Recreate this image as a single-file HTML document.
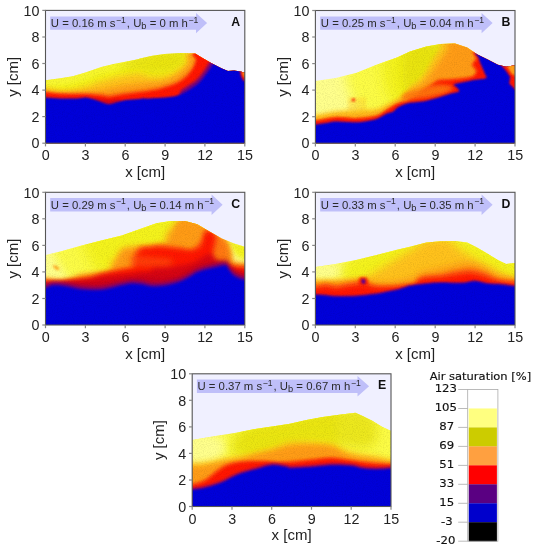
<!DOCTYPE html>
<html><head><meta charset="utf-8"><title>Air saturation panels</title>
<style>
html,body{margin:0;padding:0;background:#fff;}
body{width:538px;height:550px;overflow:hidden;}
svg{display:block;}
text{font-family:"Liberation Sans",sans-serif;fill:#222;}
.t{font-size:14.3px;}
.l{font-size:15px;}
.a{font-size:11.35px;fill:#2a2a2a;}
.sup{font-size:8.6px;}.sub{font-size:9.3px;}
.p{font-size:12.3px;font-weight:bold;fill:#111;}
.lg{font-family:"DejaVu Sans",sans-serif;font-size:10px;fill:#111;stroke:#111;stroke-width:0.15px;}
</style></head><body>
<svg width="538" height="550" viewBox="0 0 538 550">
<defs>
<filter id="b0_8" x="-30%" y="-30%" width="160%" height="160%"><feGaussianBlur stdDeviation="0.8"/></filter>
<filter id="b1" x="-30%" y="-30%" width="160%" height="160%"><feGaussianBlur stdDeviation="1"/></filter>
<filter id="b1_1" x="-30%" y="-30%" width="160%" height="160%"><feGaussianBlur stdDeviation="1.1"/></filter>
<filter id="b1_2" x="-30%" y="-30%" width="160%" height="160%"><feGaussianBlur stdDeviation="1.2"/></filter>
<filter id="b1_3" x="-30%" y="-30%" width="160%" height="160%"><feGaussianBlur stdDeviation="1.3"/></filter>
<filter id="b1_5" x="-30%" y="-30%" width="160%" height="160%"><feGaussianBlur stdDeviation="1.5"/></filter>
<filter id="b2" x="-30%" y="-30%" width="160%" height="160%"><feGaussianBlur stdDeviation="2"/></filter>
<filter id="b2_5" x="-30%" y="-30%" width="160%" height="160%"><feGaussianBlur stdDeviation="2.5"/></filter>
<filter id="b3" x="-30%" y="-30%" width="160%" height="160%"><feGaussianBlur stdDeviation="3"/></filter>
<filter id="b4" x="-30%" y="-30%" width="160%" height="160%"><feGaussianBlur stdDeviation="4"/></filter>
<filter id="b5" x="-30%" y="-30%" width="160%" height="160%"><feGaussianBlur stdDeviation="5"/></filter>
<filter id="b6" x="-30%" y="-30%" width="160%" height="160%"><feGaussianBlur stdDeviation="6"/></filter>
<filter id="grain" x="0" y="0" width="100%" height="100%"><feTurbulence type="fractalNoise" baseFrequency="0.9" numOctaves="2" seed="7" result="n"/><feColorMatrix in="n" type="matrix" values="0 0 0 0 0  0 0 0 0 0  0 0 0 0 0  0 0 0 -1.6 0.95" result="a"/><feComposite in="a" in2="SourceGraphic" operator="in"/></filter>
<clipPath id="cfA"><rect x="45.5" y="10.4" width="199.3" height="132.8"/></clipPath>
<clipPath id="csA"><polygon points="25.5,80.3 45.5,80.3 60.4,78.2 72.7,76.2 85.4,72.5 101.3,67.0 113.6,63.9 125.5,61.7 138.1,59.2 140.0,58.6 152.3,55.7 164.5,54.1 180.9,53.1 195.2,53.5 201.3,57.2 211.6,63.3 221.8,68.4 227.9,71.1 234.1,70.4 240.2,71.5 244.9,72.5 264.8,72.5 264.8,163.2 25.5,163.2"/></clipPath>
<clipPath id="cfB"><rect x="315.4" y="10.5" width="199.6" height="132.7"/></clipPath>
<clipPath id="csB"><polygon points="295.4,81.1 315.2,81.1 335.7,78.0 356.1,72.9 376.6,64.8 397.0,57.6 410.0,51.5 426.4,46.4 440.7,43.9 455.0,43.5 467.2,47.4 477.5,54.5 487.7,59.6 497.9,64.8 506.1,66.8 514.9,65.2 535.0,65.2 535.0,163.2 295.4,163.2"/></clipPath>
<clipPath id="cfC"><rect x="45.5" y="192.3" width="199.3" height="132.7"/></clipPath>
<clipPath id="csC"><polygon points="25.5,254.9 45.5,254.9 60.4,251.4 80.9,245.7 101.3,240.6 121.8,235.4 142.2,228.3 156.4,223.2 170.7,221.1 185.0,221.1 197.2,224.2 209.5,231.4 221.8,238.5 234.1,243.6 244.9,246.7 264.8,246.7 264.8,345.0 25.5,345.0"/></clipPath>
<clipPath id="cfD"><rect x="315.4" y="192.3" width="199.6" height="132.7"/></clipPath>
<clipPath id="csD"><polygon points="295.4,267.1 315.6,267.1 335.7,264.1 356.1,260.0 376.6,254.9 397.0,249.8 410.0,246.7 426.4,242.6 440.7,241.2 455.0,241.0 467.2,242.6 477.5,247.7 487.7,253.8 497.9,260.0 506.1,264.1 514.9,263.0 535.0,263.0 535.0,345.0 295.4,345.0"/></clipPath>
<clipPath id="cfE"><rect x="192.2" y="373.8" width="198.8" height="132.7"/></clipPath>
<clipPath id="csE"><polygon points="172.2,440.0 192.2,440.0 215.7,435.9 236.1,432.8 256.6,428.7 277.0,425.7 290.0,423.8 306.4,419.9 322.7,416.9 341.1,414.4 355.4,412.8 361.6,415.4 371.8,420.6 382.0,426.7 390.6,430.8 411.0,430.8 411.0,526.5 172.2,526.5"/></clipPath>
</defs>
<rect width="538" height="550" fill="#fff"/>
<g id="panelA">
<rect x="45.5" y="10.4" width="199.3" height="132.8" fill="#f0f0ff"/>
<g clip-path="url(#cfA)"><g clip-path="url(#csA)">
<rect x="40.5" y="10.4" width="209.3" height="137.8" fill="#f4f31a"/>
<path d="M45.5 80.3C48.9 79.9 55.9 78.9 60.4 78.2C65.0 77.5 68.6 77.1 72.7 76.2C76.9 75.2 80.6 74.0 85.4 72.5C90.2 71.0 96.6 68.4 101.3 67.0C106.0 65.5 109.6 64.8 113.6 63.9C117.6 63.0 121.4 62.4 125.5 61.7C129.6 60.9 134.1 60.0 138.1 59.2C142.2 58.5 148.0 57.0 150.0 57.2C152.0 57.3 154.1 58.9 150.0 60.2C145.9 61.6 133.6 63.5 125.5 65.3C117.4 67.2 108.0 69.4 101.3 71.5C94.7 73.5 90.2 75.9 85.4 77.6C80.6 79.3 76.9 80.7 72.7 81.7C68.6 82.7 65.0 83.1 60.4 83.7C55.9 84.4 48.9 85.4 45.5 85.8C42.1 86.1 40.9 86.7 40.0 85.8C39.1 84.9 39.1 81.2 40.0 80.3C40.9 79.3 42.1 80.6 45.5 80.3Z" fill="#fcfc44" filter="url(#b3)" opacity="0.9"/>
<path d="M127.7 60.2C131.8 57.8 139.3 55.5 148.2 54.1C157.0 52.7 174.4 51.4 180.9 52.0C187.4 52.7 187.4 55.5 187.0 58.2C186.7 60.9 183.3 65.8 178.8 68.4C174.4 71.0 166.9 73.2 160.4 73.5C154.0 73.9 146.1 71.3 140.0 70.4C133.9 69.6 125.7 70.1 123.6 68.4C121.6 66.7 123.6 62.6 127.7 60.2Z" fill="#e6e008" filter="url(#b5)" opacity="0.8"/>
<path d="M30.5 88.8C33.0 77.3 40.5 88.5 45.5 88.8C50.5 89.2 55.9 90.7 60.4 90.9C65.0 91.1 68.6 90.6 72.7 89.9C76.9 89.2 82.0 87.8 85.4 86.8C88.8 85.8 90.5 84.9 93.2 83.9C95.8 83.0 97.9 82.1 101.3 81.1C104.7 80.1 109.6 78.8 113.6 77.8C117.6 76.9 121.4 76.0 125.5 75.4C129.6 74.7 134.1 74.1 138.1 73.7C142.2 73.3 149.7 73.1 150.0 73.1C150.3 73.1 139.6 73.0 140.0 73.7C140.4 74.4 148.2 76.8 152.3 77.2C156.4 77.6 160.8 77.2 164.5 76.4C168.3 75.6 171.7 74.1 174.8 72.5C177.8 70.9 180.7 68.8 182.9 66.8C185.2 64.7 186.7 62.7 188.0 60.2C189.4 57.8 179.2 53.4 191.1 52.0C203.1 50.7 248.4 34.4 259.8 52.0C271.2 69.7 298.0 140.5 259.8 158.2C221.6 175.9 68.7 169.8 30.5 158.2C-7.7 146.6 28.0 100.4 30.5 88.8Z" fill="#ffc21c" filter="url(#b3)"/>
<path d="M30.5 90.5C33.0 79.2 40.5 90.2 45.5 90.5C50.5 90.8 53.8 92.2 60.4 92.3C67.1 92.5 78.6 91.7 85.4 91.3C92.2 90.9 96.6 90.5 101.3 89.9C106.0 89.3 109.6 88.4 113.6 87.6C117.6 86.8 119.4 86.0 125.5 85.2C131.5 84.3 147.6 83.2 150.0 82.7C152.4 82.2 139.6 82.3 140.0 82.3C140.4 82.3 148.2 83.0 152.3 82.7C156.4 82.4 160.8 81.8 164.5 80.7C168.3 79.6 171.7 77.9 174.8 76.2C177.8 74.4 180.6 72.2 182.9 70.0C185.3 67.9 187.3 66.1 189.1 63.1C190.8 60.1 181.8 53.9 193.6 52.0C205.4 50.2 248.8 34.4 259.8 52.0C270.8 69.7 298.0 140.5 259.8 158.2C221.6 175.9 68.7 169.5 30.5 158.2C-7.7 146.9 28.0 101.8 30.5 90.5Z" fill="#ff9c14" filter="url(#b2_5)"/>
<path d="M30.5 91.7C33.0 80.6 40.5 91.5 45.5 91.7C50.5 91.9 53.8 92.9 60.4 93.1C67.1 93.3 78.6 92.9 85.4 92.9C92.2 93.0 97.3 93.3 101.3 93.6C105.4 93.8 105.5 94.8 109.5 94.6C113.5 94.3 118.7 93.1 125.5 92.1C132.2 91.2 147.6 89.5 150.0 88.8C152.4 88.2 139.6 88.5 140.0 88.4C140.4 88.4 148.2 88.9 152.3 88.4C156.4 88.0 160.4 86.8 164.5 85.6C168.6 84.4 173.2 83.1 176.8 81.3C180.4 79.4 183.4 76.9 186.0 74.5C188.6 72.1 190.6 69.5 192.1 67.0C193.7 64.4 194.5 61.9 195.2 59.4C195.9 56.9 185.7 53.3 196.4 52.0C207.2 50.8 249.2 34.4 259.8 52.0C270.4 69.7 298.0 140.5 259.8 158.2C221.6 175.9 68.7 169.3 30.5 158.2C-7.7 147.1 28.0 102.8 30.5 91.7Z" fill="#ff5a0a" filter="url(#b1_5)"/>
<path d="M30.5 93.1C33.0 82.3 40.5 92.9 45.5 93.1C50.5 93.3 53.8 94.1 60.4 94.4C67.1 94.6 78.6 94.5 85.4 94.8C92.2 95.1 97.3 95.8 101.3 96.2C105.4 96.7 105.5 97.7 109.5 97.4C113.5 97.2 118.7 95.8 125.5 94.8C132.2 93.8 147.6 92.1 150.0 91.5C152.4 90.9 139.6 91.4 140.0 91.3C140.4 91.2 148.2 91.6 152.3 91.1C156.4 90.6 160.4 89.4 164.5 88.2C168.6 87.1 173.1 86.0 176.8 84.1C180.6 82.3 184.2 79.6 187.0 77.0C189.8 74.4 191.9 71.4 193.6 68.6C195.2 65.8 196.1 62.8 196.8 60.0C197.6 57.3 187.8 53.4 198.3 52.0C208.8 50.7 249.5 34.4 259.8 52.0C270.1 69.7 298.0 140.5 259.8 158.2C221.6 175.9 68.7 169.0 30.5 158.2C-7.7 147.4 28.0 104.0 30.5 93.1Z" fill="#ff1200" filter="url(#b1_2)"/>
<path d="M178.8 97.0C179.2 95.0 179.6 92.6 180.9 90.9C182.2 89.2 184.1 88.6 186.6 86.8C189.2 85.0 193.3 83.0 196.2 80.3C199.2 77.5 202.4 73.1 204.4 70.4C206.4 67.8 207.3 66.1 208.5 64.3C209.7 62.5 210.6 61.2 211.6 59.8C212.5 58.5 211.6 56.7 214.0 56.1C216.4 55.5 223.9 48.3 225.9 56.1C227.9 64.0 233.7 95.3 225.9 103.2C218.0 111.0 186.7 104.2 178.8 103.2C171.0 102.1 178.5 99.1 178.8 97.0Z" fill="#5a009a" filter="url(#b1_5)" opacity="0.85"/>
<path d="M93.6 98.7C94.3 97.9 98.7 98.9 101.3 99.1C104.0 99.3 106.6 99.9 109.5 99.9C112.4 99.9 116.7 98.5 118.7 99.1C120.8 99.7 123.3 102.4 121.8 103.6C120.3 104.8 113.6 106.2 109.5 106.2C105.4 106.2 99.9 104.8 97.2 103.6C94.6 102.3 92.9 99.4 93.6 98.7Z" fill="#c8001e" filter="url(#b1_5)" opacity="0.7"/>
<path d="M30.5 97.4C33.0 87.3 40.5 97.3 45.5 97.4C50.5 97.6 55.2 98.3 60.4 98.5C65.7 98.6 72.6 98.6 76.8 98.5C81.0 98.3 82.7 97.3 85.4 97.4C88.1 97.5 90.5 98.3 93.2 99.1C95.8 99.9 98.6 101.3 101.3 102.1C104.1 103.0 106.8 104.2 109.5 104.2C112.2 104.2 115.0 102.8 117.7 102.1C120.4 101.5 122.1 100.6 125.5 100.1C128.9 99.6 134.1 99.4 138.1 99.1C142.2 98.7 149.7 97.9 150.0 97.8C150.3 97.8 138.3 98.7 140.0 98.7C141.7 98.7 154.3 98.3 160.4 97.8C166.6 97.4 172.0 97.1 176.8 95.8C181.6 94.5 185.3 92.1 189.1 89.9C192.8 87.7 196.2 85.6 199.3 82.7C202.4 79.8 205.4 75.2 207.5 72.5C209.5 69.8 210.4 68.1 211.6 66.4C212.8 64.7 213.6 63.6 214.6 62.3C215.7 60.9 210.2 58.9 217.7 58.2C225.2 57.5 252.8 41.5 259.8 58.2C266.8 74.8 298.0 141.5 259.8 158.2C221.6 174.9 68.7 168.3 30.5 158.2C-7.7 148.1 28.0 107.6 30.5 97.4Z" fill="#0505da" filter="url(#b1_2)"/>
<polygon points="239.8,70.4 248.4,70.4 248.4,80.7 243.3,80.7 241.2,76.6" fill="#ff1200" filter="url(#b0_8)"/>
<polygon points="242.2,71.5 248.4,71.5 248.4,77.6 243.3,76.6" fill="#ff9c14" filter="url(#b0_8)"/>
<rect x="45.5" y="10.4" width="199.3" height="132.8" fill="#000" opacity="0.10" filter="url(#grain)"/>
</g></g>
<polygon points="50.2,16.4 196.0,16.4 196.0,12.9 207.1,23.1 196.0,33.3 196.0,29.8 50.2,29.8" fill="#bfbff9"/>
<rect x="45.5" y="10.4" width="199.3" height="132.8" fill="none" stroke="#555" stroke-width="1.1"/>
<line x1="45.5" y1="143.2" x2="45.5" y2="146.4" stroke="#888" stroke-width="1.2"/>
<text x="45.7" y="160.2" class="t" text-anchor="middle">0</text>
<line x1="85.4" y1="143.2" x2="85.4" y2="146.4" stroke="#888" stroke-width="1.2"/>
<text x="85.6" y="160.2" class="t" text-anchor="middle">3</text>
<line x1="125.2" y1="143.2" x2="125.2" y2="146.4" stroke="#888" stroke-width="1.2"/>
<text x="125.4" y="160.2" class="t" text-anchor="middle">6</text>
<line x1="165.1" y1="143.2" x2="165.1" y2="146.4" stroke="#888" stroke-width="1.2"/>
<text x="165.3" y="160.2" class="t" text-anchor="middle">9</text>
<line x1="204.9" y1="143.2" x2="204.9" y2="146.4" stroke="#888" stroke-width="1.2"/>
<text x="205.1" y="160.2" class="t" text-anchor="middle">12</text>
<line x1="244.8" y1="143.2" x2="244.8" y2="146.4" stroke="#888" stroke-width="1.2"/>
<text x="245.0" y="160.2" class="t" text-anchor="middle">15</text>
<line x1="42.3" y1="143.2" x2="45.5" y2="143.2" stroke="#888" stroke-width="1.2"/>
<text x="39.5" y="148.4" class="t" text-anchor="end">0</text>
<line x1="42.3" y1="116.6" x2="45.5" y2="116.6" stroke="#888" stroke-width="1.2"/>
<text x="39.5" y="121.8" class="t" text-anchor="end">2</text>
<line x1="42.3" y1="90.1" x2="45.5" y2="90.1" stroke="#888" stroke-width="1.2"/>
<text x="39.5" y="95.3" class="t" text-anchor="end">4</text>
<line x1="42.3" y1="63.5" x2="45.5" y2="63.5" stroke="#888" stroke-width="1.2"/>
<text x="39.5" y="68.7" class="t" text-anchor="end">6</text>
<line x1="42.3" y1="37.0" x2="45.5" y2="37.0" stroke="#888" stroke-width="1.2"/>
<text x="39.5" y="42.2" class="t" text-anchor="end">8</text>
<line x1="42.3" y1="10.4" x2="45.5" y2="10.4" stroke="#888" stroke-width="1.2"/>
<text x="39.5" y="15.6" class="t" text-anchor="end">10</text>
<text x="145.2" y="176.9" class="l" text-anchor="middle">x [cm]</text>
<text transform="translate(17.7 76.8) rotate(-90)" class="l" text-anchor="middle">y [cm]</text>
<text x="50.8" y="27.0" class="a">U = 0.16 m s<tspan class="sup" dy="-4.5" dx="0.6">−1</tspan><tspan dy="4.5" dx="1">, U</tspan><tspan class="sub" dy="2">b</tspan><tspan dy="-2"> = 0 m h</tspan><tspan class="sup" dy="-4.5" dx="0.6">−1</tspan></text>
<text x="235.8" y="25.8" class="p" text-anchor="middle">A</text>
</g>
<g id="panelB">
<rect x="315.4" y="10.5" width="199.6" height="132.7" fill="#f0f0ff"/>
<g clip-path="url(#cfB)"><g clip-path="url(#csB)">
<rect x="310.4" y="10.5" width="209.6" height="137.7" fill="#ffff8c"/>
<path d="M352.0 60.7C364.6 51.1 415.1 31.0 427.7 40.2C440.3 49.4 436.9 103.3 427.7 115.9C418.5 128.5 385.1 118.9 372.5 115.9C359.9 112.8 355.4 106.7 352.0 97.5C348.6 88.3 339.4 70.2 352.0 60.7Z" fill="#fcfc44" filter="url(#b6)"/>
<path d="M386.8 50.4C397.0 41.9 437.9 30.0 448.1 40.2C458.3 50.4 455.6 100.5 448.1 111.8C440.6 123.0 413.4 111.1 403.1 107.7C392.9 104.3 389.5 100.9 386.8 91.3C384.1 81.8 376.6 59.0 386.8 50.4Z" fill="#f4f31a" filter="url(#b6)"/>
<path d="M405.9 48.4C411.7 39.9 432.1 41.6 440.7 40.2C449.2 38.9 455.3 35.1 457.0 40.2C458.7 45.3 455.3 63.7 450.9 70.9C446.5 78.0 437.9 79.8 430.4 83.2C422.9 86.6 410.0 97.1 405.9 91.3C401.8 85.5 400.1 56.9 405.9 48.4Z" fill="#e6e008" filter="url(#b5)" opacity="0.8"/>
<polygon points="347.9,97.5 366.3,97.5 366.3,111.8 347.9,111.8" fill="#ffc21c" filter="url(#b1_5)" opacity="0.35"/>
<path d="M300.4 115.1C302.9 107.9 309.3 115.6 315.2 115.1C321.1 114.5 328.9 112.5 335.7 111.6C342.5 110.7 349.3 110.2 356.1 109.7C362.9 109.3 371.4 109.7 376.6 108.9C381.7 108.1 383.4 106.3 386.8 104.8C390.2 103.3 393.6 101.8 397.0 99.9C400.4 98.0 405.1 95.6 407.2 93.4C409.4 91.1 408.2 88.5 410.0 86.4C411.8 84.4 415.5 83.7 418.2 81.1C420.9 78.5 423.8 74.6 426.4 70.9C428.9 67.1 431.1 62.5 433.5 58.6C435.9 54.7 438.6 50.4 440.7 47.4C442.7 44.3 430.9 41.4 445.8 40.2C460.7 39.0 516.0 20.6 530.0 40.2C544.0 59.9 568.3 138.5 530.0 158.2C491.7 177.9 338.7 165.4 300.4 158.2C262.1 151.0 297.9 122.2 300.4 115.1Z" fill="#ffc21c" filter="url(#b2)"/>
<path d="M300.4 119.1C302.9 112.6 309.3 119.7 315.2 119.1C321.1 118.6 328.9 116.4 335.7 115.9C342.5 115.3 349.3 116.3 356.1 115.9C362.9 115.5 371.4 114.7 376.6 113.4C381.7 112.1 383.4 110.1 386.8 108.1C390.2 106.1 393.6 103.7 397.0 101.6C400.4 99.4 405.1 96.7 407.2 95.0C409.4 93.3 408.2 92.6 410.0 91.3C411.8 90.0 415.1 89.6 418.2 87.2C421.2 84.9 425.0 81.1 428.4 77.0C431.8 72.9 435.4 67.3 438.6 62.7C441.9 58.1 445.3 53.2 447.8 49.4C450.4 45.7 440.3 41.8 454.0 40.2C467.7 38.7 517.3 20.6 530.0 40.2C542.7 59.9 568.3 138.5 530.0 158.2C491.7 177.9 338.7 164.7 300.4 158.2C262.1 151.7 297.9 125.7 300.4 119.1Z" fill="#ff9c14" filter="url(#b2_5)"/>
<path d="M300.4 120.2C302.9 113.8 309.3 120.7 315.2 120.2C321.1 119.7 328.9 117.5 335.7 117.1C342.5 116.7 349.3 118.2 356.1 117.9C362.9 117.6 371.4 116.7 376.6 115.3C381.7 113.8 383.4 111.3 386.8 109.3C390.2 107.4 393.6 105.2 397.0 103.6C400.4 102.0 405.1 100.5 407.2 99.5C409.4 98.5 407.8 98.8 410.0 97.5C412.2 96.1 416.8 93.6 420.2 91.3C423.6 89.1 427.4 86.2 430.4 84.2C433.5 82.1 435.2 80.1 438.6 79.1C442.0 78.1 445.4 78.8 450.9 78.3C456.3 77.7 467.3 77.0 471.3 75.8C475.4 74.6 475.0 72.7 475.0 70.9C475.0 69.1 471.3 66.8 471.3 64.8C471.3 62.7 474.2 61.0 475.0 58.6C475.9 56.2 467.3 51.8 476.4 50.4C485.6 49.1 521.1 32.5 530.0 50.4C538.9 68.4 568.3 140.2 530.0 158.2C491.7 176.2 338.7 164.5 300.4 158.2C262.1 151.9 297.9 126.5 300.4 120.2Z" fill="#ff5a0a" filter="url(#b1_2)"/>
<path d="M300.4 121.0C302.9 114.8 309.3 121.5 315.2 121.0C321.1 120.5 328.9 118.3 335.7 117.9C342.5 117.6 349.3 119.2 356.1 118.9C362.9 118.7 371.4 117.9 376.6 116.5C381.7 115.1 383.4 112.7 386.8 110.8C390.2 108.8 393.6 106.2 397.0 104.6C400.4 103.0 405.1 102.1 407.2 101.2C409.4 100.2 407.8 100.3 410.0 99.1C412.2 97.9 416.8 95.7 420.2 93.8C423.6 91.9 427.5 89.6 430.4 87.7C433.3 85.7 434.2 83.1 437.6 81.9C441.0 80.7 445.3 81.2 450.9 80.5C456.5 79.8 466.9 79.4 471.3 77.8C475.8 76.3 477.1 73.5 477.5 71.3C477.9 69.1 473.8 66.9 473.8 64.8C473.8 62.6 476.7 61.0 477.5 58.6C478.3 56.2 469.7 51.8 478.5 50.4C487.2 49.1 521.4 32.5 530.0 50.4C538.6 68.4 568.3 140.2 530.0 158.2C491.7 176.2 338.7 164.4 300.4 158.2C262.1 152.0 297.9 127.2 300.4 121.0Z" fill="#ff1200" filter="url(#b1)"/>
<path d="M403.9 93.4C406.9 91.4 417.2 90.3 422.3 88.9C427.4 87.5 430.1 85.4 434.5 84.8C439.0 84.2 445.7 84.6 448.8 85.2C452.0 85.8 453.7 87.3 453.3 88.5C453.0 89.7 450.6 90.9 446.8 92.4C443.0 93.8 436.6 95.8 430.4 97.1C424.3 98.3 414.4 99.3 410.0 99.9C405.6 100.5 404.9 101.6 403.9 100.5C402.8 99.4 400.8 95.3 403.9 93.4Z" fill="#ff7a0e" filter="url(#b2)" opacity="0.9"/>
<path d="M300.4 124.5C302.9 118.8 311.0 124.7 315.2 124.5C319.4 124.2 322.0 123.5 325.4 123.0C328.9 122.5 330.6 121.5 335.7 121.4C340.8 121.3 351.0 122.2 356.1 122.2C361.2 122.2 362.9 121.7 366.3 121.2C369.7 120.7 373.2 120.4 376.6 119.1C380.0 117.9 384.1 114.9 386.8 113.6C389.5 112.4 391.2 112.7 392.9 111.8C394.6 110.8 395.3 109.1 397.0 107.9C398.7 106.7 401.0 105.7 403.1 104.8C405.3 104.0 406.1 103.5 410.0 102.8C413.9 102.1 421.2 101.8 426.4 100.7C431.5 99.7 436.6 97.8 440.7 96.7C444.8 95.5 447.8 94.5 450.9 93.6C454.0 92.7 458.1 92.4 459.1 91.3C460.0 90.3 457.5 88.4 456.6 87.2C455.8 86.1 451.5 85.5 454.0 84.4C456.4 83.3 466.1 81.5 471.3 80.5C476.6 79.5 483.4 79.3 485.7 78.3C487.9 77.2 485.7 75.9 485.0 74.0C484.4 72.1 483.0 69.4 482.0 66.8C480.9 64.2 479.3 61.4 478.9 58.6C478.5 55.9 471.0 51.8 479.5 50.4C488.0 49.1 521.6 32.5 530.0 50.4C538.4 68.4 568.3 140.2 530.0 158.2C491.7 176.2 338.7 163.8 300.4 158.2C262.1 152.6 297.9 130.1 300.4 124.5Z" fill="#0505da" filter="url(#b1_1)"/>
<polygon points="500.0,63.7 518.4,62.7 518.4,91.3 514.9,89.3 509.2,83.6 510.2,77.0 506.1,70.9" fill="#ff1200" filter="url(#b1)"/>
<polygon points="506.1,64.8 518.4,63.7 518.4,77.4 511.6,74.0" fill="#ff9c14" filter="url(#b1)"/>
<polygon points="351.8,98.5 355.1,98.5 355.1,101.4 351.8,101.4" fill="#ff1200" filter="url(#b0_8)" opacity="0.85"/>
<rect x="315.4" y="10.5" width="199.6" height="132.7" fill="#000" opacity="0.10" filter="url(#grain)"/>
</g></g>
<polygon points="320.2,16.4 481.6,16.4 481.6,12.9 492.6,23.1 481.6,33.3 481.6,29.8 320.2,29.8" fill="#bfbff9"/>
<rect x="315.4" y="10.5" width="199.6" height="132.7" fill="none" stroke="#555" stroke-width="1.1"/>
<line x1="315.4" y1="143.2" x2="315.4" y2="146.4" stroke="#888" stroke-width="1.2"/>
<text x="315.6" y="160.2" class="t" text-anchor="middle">0</text>
<line x1="355.3" y1="143.2" x2="355.3" y2="146.4" stroke="#888" stroke-width="1.2"/>
<text x="355.5" y="160.2" class="t" text-anchor="middle">3</text>
<line x1="395.2" y1="143.2" x2="395.2" y2="146.4" stroke="#888" stroke-width="1.2"/>
<text x="395.4" y="160.2" class="t" text-anchor="middle">6</text>
<line x1="435.2" y1="143.2" x2="435.2" y2="146.4" stroke="#888" stroke-width="1.2"/>
<text x="435.4" y="160.2" class="t" text-anchor="middle">9</text>
<line x1="475.1" y1="143.2" x2="475.1" y2="146.4" stroke="#888" stroke-width="1.2"/>
<text x="475.3" y="160.2" class="t" text-anchor="middle">12</text>
<line x1="515.0" y1="143.2" x2="515.0" y2="146.4" stroke="#888" stroke-width="1.2"/>
<text x="515.2" y="160.2" class="t" text-anchor="middle">15</text>
<line x1="312.2" y1="143.2" x2="315.4" y2="143.2" stroke="#888" stroke-width="1.2"/>
<text x="309.4" y="148.4" class="t" text-anchor="end">0</text>
<line x1="312.2" y1="116.7" x2="315.4" y2="116.7" stroke="#888" stroke-width="1.2"/>
<text x="309.4" y="121.9" class="t" text-anchor="end">2</text>
<line x1="312.2" y1="90.1" x2="315.4" y2="90.1" stroke="#888" stroke-width="1.2"/>
<text x="309.4" y="95.3" class="t" text-anchor="end">4</text>
<line x1="312.2" y1="63.6" x2="315.4" y2="63.6" stroke="#888" stroke-width="1.2"/>
<text x="309.4" y="68.8" class="t" text-anchor="end">6</text>
<line x1="312.2" y1="37.0" x2="315.4" y2="37.0" stroke="#888" stroke-width="1.2"/>
<text x="309.4" y="42.2" class="t" text-anchor="end">8</text>
<line x1="312.2" y1="10.5" x2="315.4" y2="10.5" stroke="#888" stroke-width="1.2"/>
<text x="309.4" y="15.7" class="t" text-anchor="end">10</text>
<text x="415.2" y="176.9" class="l" text-anchor="middle">x [cm]</text>
<text transform="translate(287.6 76.8) rotate(-90)" class="l" text-anchor="middle">y [cm]</text>
<text x="320.8" y="27.0" class="a">U = 0.25 m s<tspan class="sup" dy="-4.5" dx="0.6">−1</tspan><tspan dy="4.5" dx="1">, U</tspan><tspan class="sub" dy="2">b</tspan><tspan dy="-2"> = 0.04 m h</tspan><tspan class="sup" dy="-4.5" dx="0.6">−1</tspan></text>
<text x="506.0" y="25.9" class="p" text-anchor="middle">B</text>
</g>
<g id="panelC">
<rect x="45.5" y="192.3" width="199.3" height="132.7" fill="#f0f0ff"/>
<g clip-path="url(#cfC)"><g clip-path="url(#csC)">
<rect x="40.5" y="192.3" width="209.3" height="137.7" fill="#ffff8c"/>
<path d="M64.5 235.4C87.7 224.2 180.4 196.9 203.6 204.8C226.7 212.6 222.3 269.5 203.6 282.5C184.8 295.4 114.3 284.2 91.1 282.5C67.9 280.8 69.0 280.1 64.5 272.2C60.1 264.4 41.4 246.7 64.5 235.4Z" fill="#fcfc44" filter="url(#b5)"/>
<path d="M91.1 227.3C109.9 217.7 184.8 196.6 203.6 204.8C222.3 213.0 218.9 264.4 203.6 276.3C188.2 288.3 130.3 278.7 111.6 276.3C92.8 274.0 94.5 270.2 91.1 262.0C87.7 253.8 72.4 236.8 91.1 227.3Z" fill="#f4f31a" filter="url(#b6)"/>
<path d="M115.7 268.6C101.2 265.8 115.1 259.4 116.7 255.9C118.2 252.3 118.5 249.0 124.9 247.3C131.2 245.6 146.8 246.3 154.5 245.7C162.2 245.1 166.8 245.8 170.9 243.6C174.9 241.4 176.3 236.5 179.0 232.4C181.8 228.3 183.1 221.3 187.2 219.1C191.3 216.9 200.8 210.2 203.6 219.1C206.3 227.9 218.2 264.0 203.6 272.2C188.9 280.5 130.1 271.3 115.7 268.6Z" fill="#ffc21c" filter="url(#b3)" opacity="0.9"/>
<path d="M30.5 278.8C33.0 268.6 40.5 278.6 45.5 278.8C50.5 279.0 55.9 280.3 60.4 280.0C65.0 279.8 69.3 278.4 72.7 277.4C76.1 276.3 76.8 274.7 80.9 273.9C85.0 273.0 92.5 272.9 97.2 272.2C102.0 271.6 105.9 272.5 109.5 269.8C113.1 267.1 116.0 259.4 118.7 255.9C121.4 252.4 120.7 250.2 125.9 248.7C131.1 247.3 145.6 247.7 150.0 247.3C154.4 246.9 149.7 246.9 152.3 246.3C154.9 245.7 162.0 245.9 165.6 243.6C169.1 241.3 171.2 236.5 173.7 232.4C176.3 228.3 176.3 220.6 180.9 219.1C185.5 217.6 196.6 221.5 201.3 223.2C206.1 224.9 205.4 226.9 209.5 229.3C213.6 231.7 222.3 234.8 225.9 237.5C229.5 240.2 229.8 242.6 231.0 245.7C232.2 248.7 232.5 253.2 233.0 255.9C233.5 258.6 231.5 260.5 234.1 261.6C236.6 262.7 244.1 262.3 248.4 262.4C252.7 262.6 257.9 249.5 259.8 262.4C261.7 275.4 298.0 327.1 259.8 340.0C221.6 352.9 68.7 350.2 30.5 340.0C-7.7 329.8 28.0 289.0 30.5 278.8Z" fill="#ff9c14" filter="url(#b2_5)"/>
<path d="M226.9 237.5C227.1 236.1 230.5 240.2 234.1 241.6C237.6 242.9 246.0 242.8 248.4 245.7C250.7 248.6 250.1 257.1 248.4 259.0C246.7 260.8 240.7 258.4 238.1 256.9C235.6 255.4 234.9 253.0 233.0 249.8C231.2 246.5 226.7 238.9 226.9 237.5Z" fill="#f4f31a" filter="url(#b2_5)"/>
<path d="M30.5 280.0C33.0 270.0 40.5 279.9 45.5 280.0C50.5 280.2 55.6 281.0 60.4 280.8C65.3 280.7 69.6 280.0 74.8 279.2C79.9 278.5 86.7 277.4 91.1 276.3C95.5 275.3 96.2 274.4 101.3 273.1C106.4 271.8 116.8 269.7 121.8 268.6C126.7 267.4 129.1 268.2 131.0 266.1C132.9 264.0 131.7 259.0 133.0 255.9C134.4 252.8 136.3 249.0 139.2 247.3C142.0 245.6 146.5 246.1 150.0 245.7C153.5 245.2 155.3 244.5 160.4 244.6C165.6 244.8 175.8 246.0 180.9 246.7C186.0 247.4 187.9 249.9 191.1 248.7C194.4 247.5 198.2 242.6 200.3 239.5C202.4 236.5 201.7 231.9 203.8 230.3C205.8 228.8 210.3 229.1 212.6 230.3C214.8 231.5 216.9 233.2 217.3 237.5C217.7 241.8 214.3 251.8 214.8 255.9C215.4 260.0 217.9 260.5 220.8 262.0C223.6 263.6 227.4 264.3 232.0 265.1C236.6 265.8 243.7 266.3 248.4 266.5C253.0 266.8 257.9 254.3 259.8 266.5C261.7 278.8 298.0 327.8 259.8 340.0C221.6 352.2 68.7 350.0 30.5 340.0C-7.7 330.0 28.0 290.0 30.5 280.0Z" fill="#ff5a0a" filter="url(#b2_5)"/>
<path d="M164.5 240.6C164.2 237.3 170.3 227.3 174.8 224.2C179.2 221.1 186.7 221.1 191.1 222.2C195.5 223.2 200.7 226.8 201.3 230.3C202.0 233.9 199.3 241.4 195.2 243.6C191.1 245.8 181.9 244.1 176.8 243.6C171.7 243.1 164.9 243.8 164.5 240.6Z" fill="#ff9c14" filter="url(#b3)" opacity="0.8"/>
<path d="M211.6 233.8C213.5 232.5 221.0 237.3 223.8 239.9C226.6 242.6 227.8 245.9 228.3 249.8C228.8 253.6 229.3 260.8 226.9 263.0C224.5 265.3 216.5 265.6 214.0 263.0C211.5 260.5 212.4 252.6 212.0 247.7C211.6 242.8 209.6 235.1 211.6 233.8Z" fill="#ff5a0a" filter="url(#b3)" opacity="0.55"/>
<path d="M30.5 281.4C33.0 271.7 40.5 281.3 45.5 281.4C50.5 281.6 55.6 282.2 60.4 282.1C65.3 281.9 69.6 281.3 74.8 280.6C79.9 280.0 86.7 279.1 91.1 278.2C95.5 277.2 96.2 276.2 101.3 274.9C106.4 273.6 116.3 271.5 121.8 270.2C127.3 268.9 132.0 269.6 134.5 267.3C136.9 265.1 135.3 259.8 136.5 256.9C137.7 254.0 139.6 251.2 141.8 249.8C144.1 248.4 146.9 248.9 150.0 248.5C153.1 248.2 155.3 247.5 160.4 247.7C165.6 247.9 175.5 249.3 180.9 249.8C186.3 250.2 189.3 251.3 192.8 250.6C196.2 249.9 199.4 248.2 201.3 245.7C203.3 243.1 203.6 237.7 204.4 235.4C205.3 233.2 205.4 232.9 206.4 232.4C207.5 231.9 209.6 231.5 210.9 232.4C212.3 233.3 214.7 234.0 214.8 237.9C215.0 241.8 211.2 251.5 212.0 255.9C212.7 260.3 216.0 262.2 219.3 264.1C222.7 265.9 227.2 266.3 232.0 266.9C236.8 267.6 243.7 268.0 248.4 268.2C253.0 268.4 257.9 256.2 259.8 268.2C261.7 280.1 298.0 328.0 259.8 340.0C221.6 352.0 68.7 349.8 30.5 340.0C-7.7 330.2 28.0 291.2 30.5 281.4Z" fill="#ff1200" filter="url(#b2)"/>
<path d="M131.8 255.9C135.2 254.5 145.8 256.4 152.3 256.9C158.7 257.4 167.6 257.4 170.7 259.0C173.7 260.5 173.7 264.8 170.7 266.1C167.6 267.5 158.7 267.3 152.3 267.1C145.8 267.0 135.2 267.0 131.8 265.1C128.4 263.2 128.4 257.3 131.8 255.9Z" fill="#ff5a0a" filter="url(#b3)" opacity="0.6"/>
<path d="M30.5 283.5C33.0 274.1 40.5 283.5 45.5 283.5C50.5 283.5 55.2 283.7 60.4 283.3C65.7 282.8 71.7 281.6 76.8 280.8C81.9 280.1 87.0 279.5 91.1 278.8C95.2 278.0 96.2 277.1 101.3 276.3C106.4 275.6 113.7 275.1 121.8 274.3C129.9 273.4 144.9 272.2 150.0 271.2C155.1 270.3 148.8 269.3 152.3 268.6C155.7 267.9 164.2 268.1 170.7 267.1C177.1 266.2 186.0 264.6 191.1 263.0C196.2 261.5 198.1 259.5 201.3 257.9C204.6 256.4 207.6 253.1 210.5 253.8C213.4 254.6 215.1 259.8 218.7 262.4C222.3 265.1 227.1 268.3 232.0 269.8C236.9 271.3 243.7 271.0 248.4 271.2C253.0 271.5 257.9 259.8 259.8 271.2C261.7 282.7 298.0 328.5 259.8 340.0C221.6 351.5 68.7 349.4 30.5 340.0C-7.7 330.6 28.0 292.9 30.5 283.5Z" fill="#c8001e" filter="url(#b2_5)" opacity="0.7"/>
<path d="M30.5 286.6C33.0 277.7 41.9 287.0 45.5 286.6C49.1 286.2 49.8 284.6 52.3 284.1C54.8 283.6 57.4 284.1 60.4 283.7C63.5 283.3 63.9 281.9 70.7 281.7C77.5 281.4 92.8 282.4 101.3 282.1C109.9 281.7 115.0 280.6 121.8 279.6C128.6 278.7 139.2 277.2 142.2 276.3C145.3 275.5 137.0 274.5 140.0 274.7C143.0 274.9 153.6 277.4 160.4 277.4C167.3 277.4 175.4 276.2 180.9 274.7C186.3 273.2 187.7 270.6 193.2 268.6C198.6 266.5 208.0 263.9 213.6 262.4C219.2 261.0 223.8 259.2 226.9 260.0C230.0 260.8 229.0 264.4 232.0 267.1C235.0 269.9 240.3 274.8 244.9 276.3C249.5 277.9 257.3 265.7 259.8 276.3C262.3 286.9 298.0 329.4 259.8 340.0C221.6 350.6 68.7 348.9 30.5 340.0C-7.7 331.1 28.0 295.5 30.5 286.6Z" fill="#c8001e" filter="url(#b2_5)" opacity="0.8"/>
<path d="M30.5 285.2C33.0 276.1 42.1 285.6 45.5 285.2C49.0 284.8 48.8 283.2 51.2 282.7C53.7 282.3 57.2 282.4 60.4 282.7C63.7 283.1 67.3 284.0 70.7 284.6C74.1 285.2 75.8 286.0 80.9 286.4C86.0 286.8 94.5 287.7 101.3 287.0C108.2 286.4 116.7 283.6 121.8 282.5C126.9 281.5 128.6 280.9 132.0 280.7C135.4 280.5 140.9 281.5 142.2 281.5C143.6 281.5 138.3 280.4 140.0 280.7C141.7 281.0 147.8 283.3 152.3 283.6C156.7 283.9 161.8 283.4 166.6 282.5C171.4 281.7 176.8 280.0 180.9 278.4C185.0 276.9 188.4 274.8 191.1 273.3C193.8 271.8 194.5 270.6 197.2 269.5C200.0 268.3 204.1 267.1 207.5 266.2C210.9 265.3 214.6 264.5 217.7 263.9C220.8 263.3 224.0 262.0 225.9 262.5C227.7 263.0 227.4 265.1 228.7 266.8C230.1 268.5 231.4 271.2 234.1 272.9C236.7 274.6 240.6 276.3 244.9 277.0C249.2 277.7 257.3 266.5 259.8 277.0C262.3 287.5 298.0 329.5 259.8 340.0C221.6 350.5 68.7 349.1 30.5 340.0C-7.7 330.9 28.0 294.3 30.5 285.2Z" fill="#5a009a" filter="url(#b2)" opacity="0.85"/>
<path d="M30.5 288.2C33.0 279.6 42.1 288.6 45.5 288.2C49.0 287.8 48.8 286.2 51.2 285.7C53.7 285.3 57.2 285.4 60.4 285.7C63.7 286.1 67.3 287.0 70.7 287.6C74.1 288.2 75.8 289.0 80.9 289.4C86.0 289.8 94.5 290.7 101.3 290.0C108.2 289.4 116.7 286.6 121.8 285.5C126.9 284.5 128.6 283.9 132.0 283.7C135.4 283.5 140.9 284.5 142.2 284.5C143.6 284.5 138.3 283.4 140.0 283.7C141.7 284.0 147.8 286.3 152.3 286.6C156.7 286.9 161.8 286.4 166.6 285.5C171.4 284.7 176.8 283.0 180.9 281.4C185.0 279.9 188.4 277.8 191.1 276.3C193.8 274.8 194.5 273.6 197.2 272.5C200.0 271.3 204.1 270.1 207.5 269.2C210.9 268.3 214.6 267.5 217.7 266.9C220.8 266.3 224.0 265.0 225.9 265.5C227.7 266.0 227.4 268.1 228.7 269.8C230.1 271.5 231.4 274.2 234.1 275.9C236.7 277.6 240.6 279.3 244.9 280.0C249.2 280.7 257.3 270.0 259.8 280.0C262.3 290.0 298.0 330.0 259.8 340.0C221.6 350.0 68.7 348.6 30.5 340.0C-7.7 331.4 28.0 296.8 30.5 288.2Z" fill="#0505da" filter="url(#b1_5)"/>
<path d="M53.5 265.1C54.3 265.1 58.2 266.9 59.0 267.8C59.8 268.6 59.0 270.2 58.2 270.2C57.4 270.2 54.9 268.8 54.1 268.0C53.3 267.1 52.7 265.1 53.5 265.1Z" fill="#ff9c14" filter="url(#b0_8)" opacity="0.85"/>
<rect x="45.5" y="192.3" width="199.3" height="132.7" fill="#000" opacity="0.10" filter="url(#grain)"/>
</g></g>
<polygon points="50.2,198.1 211.6,198.1 211.6,194.6 222.6,204.8 211.6,215.0 211.6,211.5 50.2,211.5" fill="#bfbff9"/>
<rect x="45.5" y="192.3" width="199.3" height="132.7" fill="none" stroke="#555" stroke-width="1.1"/>
<line x1="45.5" y1="325.0" x2="45.5" y2="328.2" stroke="#888" stroke-width="1.2"/>
<text x="45.7" y="342.0" class="t" text-anchor="middle">0</text>
<line x1="85.4" y1="325.0" x2="85.4" y2="328.2" stroke="#888" stroke-width="1.2"/>
<text x="85.6" y="342.0" class="t" text-anchor="middle">3</text>
<line x1="125.2" y1="325.0" x2="125.2" y2="328.2" stroke="#888" stroke-width="1.2"/>
<text x="125.4" y="342.0" class="t" text-anchor="middle">6</text>
<line x1="165.1" y1="325.0" x2="165.1" y2="328.2" stroke="#888" stroke-width="1.2"/>
<text x="165.3" y="342.0" class="t" text-anchor="middle">9</text>
<line x1="204.9" y1="325.0" x2="204.9" y2="328.2" stroke="#888" stroke-width="1.2"/>
<text x="205.1" y="342.0" class="t" text-anchor="middle">12</text>
<line x1="244.8" y1="325.0" x2="244.8" y2="328.2" stroke="#888" stroke-width="1.2"/>
<text x="245.0" y="342.0" class="t" text-anchor="middle">15</text>
<line x1="42.3" y1="325.0" x2="45.5" y2="325.0" stroke="#888" stroke-width="1.2"/>
<text x="39.5" y="330.2" class="t" text-anchor="end">0</text>
<line x1="42.3" y1="298.5" x2="45.5" y2="298.5" stroke="#888" stroke-width="1.2"/>
<text x="39.5" y="303.7" class="t" text-anchor="end">2</text>
<line x1="42.3" y1="271.9" x2="45.5" y2="271.9" stroke="#888" stroke-width="1.2"/>
<text x="39.5" y="277.1" class="t" text-anchor="end">4</text>
<line x1="42.3" y1="245.4" x2="45.5" y2="245.4" stroke="#888" stroke-width="1.2"/>
<text x="39.5" y="250.6" class="t" text-anchor="end">6</text>
<line x1="42.3" y1="218.8" x2="45.5" y2="218.8" stroke="#888" stroke-width="1.2"/>
<text x="39.5" y="224.0" class="t" text-anchor="end">8</text>
<line x1="42.3" y1="192.3" x2="45.5" y2="192.3" stroke="#888" stroke-width="1.2"/>
<text x="39.5" y="197.5" class="t" text-anchor="end">10</text>
<text x="145.2" y="358.7" class="l" text-anchor="middle">x [cm]</text>
<text transform="translate(17.7 258.6) rotate(-90)" class="l" text-anchor="middle">y [cm]</text>
<text x="50.8" y="208.7" class="a">U = 0.29 m s<tspan class="sup" dy="-4.5" dx="0.6">−1</tspan><tspan dy="4.5" dx="1">, U</tspan><tspan class="sub" dy="2">b</tspan><tspan dy="-2"> = 0.14 m h</tspan><tspan class="sup" dy="-4.5" dx="0.6">−1</tspan></text>
<text x="235.8" y="207.7" class="p" text-anchor="middle">C</text>
</g>
<g id="panelD">
<rect x="315.4" y="192.3" width="199.6" height="132.7" fill="#f0f0ff"/>
<g clip-path="url(#cfD)"><g clip-path="url(#csD)">
<rect x="310.4" y="192.3" width="209.6" height="137.7" fill="#fcfc44"/>
<path d="M305.0 264.1C310.1 260.9 328.2 260.7 335.7 262.0C343.2 263.4 350.0 269.3 350.0 272.2C350.0 275.2 343.2 278.6 335.7 280.0C328.2 281.4 310.1 283.5 305.0 280.8C299.9 278.2 299.9 267.2 305.0 264.1Z" fill="#ffff8c" filter="url(#b5)"/>
<path d="M356.1 255.9C368.0 248.1 398.7 235.4 427.7 235.4C456.6 235.4 512.9 248.1 529.9 255.9C546.9 263.7 558.9 278.0 529.9 282.5C500.9 286.9 385.1 286.9 356.1 282.5C327.1 278.0 344.2 263.7 356.1 255.9Z" fill="#f4f31a" filter="url(#b5)"/>
<path d="M300.4 280.4C302.9 270.5 309.8 280.5 315.6 280.4C321.5 280.4 328.9 280.4 335.7 280.0C342.4 279.7 349.3 278.9 356.1 278.4C362.9 277.8 369.7 277.3 376.6 276.7C383.4 276.2 390.6 275.7 397.0 275.3C403.4 274.9 409.4 274.8 415.0 274.3C420.6 273.8 421.1 272.9 430.4 272.2C439.8 271.6 459.8 269.7 471.3 270.2C482.9 270.7 492.1 274.0 500.0 275.3C507.8 276.6 513.4 277.5 518.4 278.0C523.4 278.4 528.1 267.6 530.0 278.0C531.9 288.3 568.3 329.7 530.0 340.0C491.7 350.3 338.7 349.9 300.4 340.0C262.1 330.1 297.9 290.4 300.4 280.4Z" fill="#ffc21c" filter="url(#b2)"/>
<path d="M366.3 278.4C367.7 276.5 371.4 274.3 374.5 272.2C377.6 270.2 380.7 268.7 384.7 266.1C388.8 263.6 394.0 260.0 399.1 256.9C404.1 253.8 411.1 250.3 415.0 247.7C418.9 245.1 419.4 242.7 422.3 241.2C425.2 239.7 428.4 239.2 432.5 238.7C436.6 238.3 442.4 236.8 446.8 238.5C451.2 240.2 454.3 245.3 459.1 248.7C463.8 252.1 470.3 255.9 475.4 259.0C480.5 262.0 485.7 264.8 489.7 267.1C493.8 269.5 497.9 270.7 500.0 273.3C502.0 275.8 524.3 280.8 502.0 282.5C479.7 284.2 388.9 284.2 366.3 283.5C343.7 282.8 365.0 280.3 366.3 278.4Z" fill="#ffc21c" filter="url(#b4)"/>
<path d="M300.4 282.1C302.9 272.4 309.8 282.1 315.6 282.1C321.5 282.0 328.9 282.0 335.7 281.7C342.4 281.3 351.0 280.2 356.1 280.0C361.2 279.9 362.9 280.5 366.3 280.8C369.7 281.2 371.4 282.1 376.6 282.1C381.7 282.1 390.6 281.8 397.0 280.8C403.4 279.9 411.1 277.8 415.0 276.3C418.9 274.9 416.6 273.5 420.2 272.2C423.8 271.0 431.5 269.7 436.6 268.6C441.7 267.4 445.8 266.3 450.9 265.3C456.0 264.3 462.5 262.5 467.2 262.4C472.0 262.4 475.8 263.7 479.5 264.9C483.3 266.1 486.3 268.0 489.7 269.8C493.1 271.6 495.2 274.0 500.0 275.5C504.7 277.0 513.4 278.2 518.4 278.8C523.4 279.3 528.1 268.6 530.0 278.8C531.9 289.0 568.3 329.8 530.0 340.0C491.7 350.2 338.7 349.7 300.4 340.0C262.1 330.3 297.9 291.7 300.4 282.1Z" fill="#ff9c14" filter="url(#b3)" opacity="0.9"/>
<path d="M300.4 284.9C302.9 275.7 311.5 285.3 315.6 284.9C319.8 284.6 322.1 282.9 325.4 282.9C328.8 282.8 332.3 284.5 335.7 284.5C339.1 284.5 342.5 283.4 345.9 282.9C349.3 282.3 352.7 281.7 356.1 281.2C359.5 280.8 363.6 280.0 366.3 280.4C369.1 280.9 370.4 283.3 372.5 284.1C374.5 284.9 374.5 285.1 378.6 285.3C382.7 285.5 390.9 285.8 397.0 285.3C403.1 284.9 411.5 283.7 415.0 282.5C418.5 281.2 416.3 279.2 418.2 278.0C420.1 276.8 422.6 276.0 426.4 275.3C430.1 274.6 436.6 274.5 440.7 273.9C444.8 273.2 446.5 272.3 450.9 271.4C455.3 270.5 462.8 268.8 467.2 268.6C471.7 268.3 474.1 269.0 477.5 269.8C480.9 270.6 484.3 272.0 487.7 273.5C491.1 274.9 493.4 277.2 497.9 278.4C502.5 279.6 509.5 280.4 514.9 280.8C520.2 281.2 527.5 271.0 530.0 280.8C532.5 290.7 568.3 330.1 530.0 340.0C491.7 349.9 338.7 349.2 300.4 340.0C262.1 330.8 297.9 294.1 300.4 284.9Z" fill="#ff5a0a" filter="url(#b2)"/>
<path d="M300.4 288.2C302.9 279.6 311.5 288.4 315.6 288.2C319.8 288.0 322.1 286.9 325.4 287.0C328.8 287.0 332.3 288.6 335.7 288.6C339.1 288.6 342.5 287.5 345.9 287.0C349.3 286.5 352.7 285.8 356.1 285.5C359.5 285.3 362.9 285.2 366.3 285.5C369.7 285.9 371.4 287.3 376.6 287.6C381.7 287.8 390.6 287.5 397.0 287.0C403.4 286.4 411.5 285.2 415.0 284.1C418.5 283.0 416.3 281.4 418.2 280.4C420.1 279.5 422.6 278.9 426.4 278.4C430.1 277.9 436.6 277.8 440.7 277.4C444.8 277.0 446.5 276.5 450.9 275.9C455.3 275.4 462.8 274.0 467.2 273.9C471.7 273.7 474.1 274.4 477.5 275.1C480.9 275.8 484.3 277.0 487.7 278.0C491.1 279.0 493.4 280.4 497.9 281.2C502.5 282.1 509.5 282.9 514.9 283.3C520.2 283.6 527.5 273.8 530.0 283.3C532.5 292.7 568.3 330.5 530.0 340.0C491.7 349.5 338.7 348.6 300.4 340.0C262.1 331.4 297.9 296.8 300.4 288.2Z" fill="#ff1200" filter="url(#b2)"/>
<path d="M300.4 293.9C302.9 286.3 311.5 293.8 315.6 293.9C319.8 294.1 322.1 294.3 325.4 294.6C328.8 294.8 330.6 295.5 335.7 295.6C340.8 295.7 349.3 295.6 356.1 295.2C362.9 294.8 371.4 293.8 376.6 293.1C381.7 292.4 383.4 291.8 386.8 291.1C390.2 290.4 393.6 289.9 397.0 289.0C400.4 288.2 405.1 286.5 407.2 285.8C409.4 285.1 406.8 285.4 410.0 285.0C413.2 284.5 421.2 283.4 426.4 282.9C431.5 282.4 434.9 282.0 440.7 281.9C446.5 281.8 455.3 282.6 461.1 282.3C466.9 282.0 471.0 280.1 475.4 280.2C479.9 280.4 483.3 282.3 487.7 282.9C492.1 283.5 497.5 283.3 502.0 283.7C506.5 284.1 510.2 285.1 514.9 285.4C519.6 285.6 527.5 276.3 530.0 285.4C532.5 294.5 568.3 330.9 530.0 340.0C491.7 349.1 338.7 347.7 300.4 340.0C262.1 332.3 297.9 301.6 300.4 293.9Z" fill="#5a009a" filter="url(#b1_2)" opacity="0.7"/>
<path d="M300.4 295.1C302.9 287.7 311.5 295.0 315.6 295.1C319.8 295.3 322.1 295.5 325.4 295.8C328.8 296.0 330.6 296.7 335.7 296.8C340.8 296.9 349.3 296.8 356.1 296.4C362.9 296.0 371.4 295.0 376.6 294.3C381.7 293.6 383.4 293.0 386.8 292.3C390.2 291.6 393.6 291.1 397.0 290.2C400.4 289.4 405.1 287.7 407.2 287.0C409.4 286.3 406.8 286.6 410.0 286.2C413.2 285.7 421.2 284.6 426.4 284.1C431.5 283.6 434.9 283.2 440.7 283.1C446.5 283.0 455.3 283.8 461.1 283.5C466.9 283.2 471.0 281.3 475.4 281.4C479.9 281.6 483.3 283.5 487.7 284.1C492.1 284.7 497.5 284.5 502.0 284.9C506.5 285.3 510.2 286.3 514.9 286.6C519.6 286.8 527.5 277.7 530.0 286.6C532.5 295.5 568.3 331.1 530.0 340.0C491.7 348.9 338.7 347.5 300.4 340.0C262.1 332.5 297.9 302.6 300.4 295.1Z" fill="#0505da" filter="url(#b1_2)"/>
<path d="M359.4 278.0C360.6 276.8 365.4 276.8 366.7 278.0C368.1 279.1 368.8 283.8 367.6 284.9C366.3 286.1 360.7 286.1 359.4 284.9C358.0 283.8 358.2 279.1 359.4 278.0Z" fill="#ff1200" filter="url(#b1_2)" opacity="0.8"/>
<path d="M361.6 279.4C362.1 278.8 364.3 278.9 364.9 279.6C365.5 280.3 365.6 282.8 365.1 283.5C364.6 284.1 362.6 284.2 362.0 283.5C361.5 282.8 361.2 280.1 361.6 279.4Z" fill="#5a009a" filter="url(#b0_8)"/>
<rect x="315.4" y="192.3" width="199.6" height="132.7" fill="#000" opacity="0.10" filter="url(#grain)"/>
</g></g>
<polygon points="320.2,198.1 481.6,198.1 481.6,194.6 492.6,204.8 481.6,215.0 481.6,211.5 320.2,211.5" fill="#bfbff9"/>
<rect x="315.4" y="192.3" width="199.6" height="132.7" fill="none" stroke="#555" stroke-width="1.1"/>
<line x1="315.4" y1="325.0" x2="315.4" y2="328.2" stroke="#888" stroke-width="1.2"/>
<text x="315.6" y="342.0" class="t" text-anchor="middle">0</text>
<line x1="355.3" y1="325.0" x2="355.3" y2="328.2" stroke="#888" stroke-width="1.2"/>
<text x="355.5" y="342.0" class="t" text-anchor="middle">3</text>
<line x1="395.2" y1="325.0" x2="395.2" y2="328.2" stroke="#888" stroke-width="1.2"/>
<text x="395.4" y="342.0" class="t" text-anchor="middle">6</text>
<line x1="435.2" y1="325.0" x2="435.2" y2="328.2" stroke="#888" stroke-width="1.2"/>
<text x="435.4" y="342.0" class="t" text-anchor="middle">9</text>
<line x1="475.1" y1="325.0" x2="475.1" y2="328.2" stroke="#888" stroke-width="1.2"/>
<text x="475.3" y="342.0" class="t" text-anchor="middle">12</text>
<line x1="515.0" y1="325.0" x2="515.0" y2="328.2" stroke="#888" stroke-width="1.2"/>
<text x="515.2" y="342.0" class="t" text-anchor="middle">15</text>
<line x1="312.2" y1="325.0" x2="315.4" y2="325.0" stroke="#888" stroke-width="1.2"/>
<text x="309.4" y="330.2" class="t" text-anchor="end">0</text>
<line x1="312.2" y1="298.5" x2="315.4" y2="298.5" stroke="#888" stroke-width="1.2"/>
<text x="309.4" y="303.7" class="t" text-anchor="end">2</text>
<line x1="312.2" y1="271.9" x2="315.4" y2="271.9" stroke="#888" stroke-width="1.2"/>
<text x="309.4" y="277.1" class="t" text-anchor="end">4</text>
<line x1="312.2" y1="245.4" x2="315.4" y2="245.4" stroke="#888" stroke-width="1.2"/>
<text x="309.4" y="250.6" class="t" text-anchor="end">6</text>
<line x1="312.2" y1="218.8" x2="315.4" y2="218.8" stroke="#888" stroke-width="1.2"/>
<text x="309.4" y="224.0" class="t" text-anchor="end">8</text>
<line x1="312.2" y1="192.3" x2="315.4" y2="192.3" stroke="#888" stroke-width="1.2"/>
<text x="309.4" y="197.5" class="t" text-anchor="end">10</text>
<text x="415.2" y="358.7" class="l" text-anchor="middle">x [cm]</text>
<text transform="translate(287.6 258.6) rotate(-90)" class="l" text-anchor="middle">y [cm]</text>
<text x="320.8" y="208.7" class="a">U = 0.33 m s<tspan class="sup" dy="-4.5" dx="0.6">−1</tspan><tspan dy="4.5" dx="1">, U</tspan><tspan class="sub" dy="2">b</tspan><tspan dy="-2"> = 0.35 m h</tspan><tspan class="sup" dy="-4.5" dx="0.6">−1</tspan></text>
<text x="506.0" y="207.7" class="p" text-anchor="middle">D</text>
</g>
<g id="panelE">
<rect x="192.2" y="373.8" width="198.8" height="132.7" fill="#f0f0ff"/>
<g clip-path="url(#cfE)"><g clip-path="url(#csE)">
<rect x="187.2" y="373.8" width="208.8" height="137.7" fill="#fcfc44"/>
<path d="M185.0 436.9C189.8 431.6 206.8 432.3 213.6 433.8C220.4 435.4 225.6 441.3 225.9 446.1C226.2 450.9 222.5 459.2 215.7 462.5C208.9 465.7 190.1 469.8 185.0 465.5C179.9 461.3 180.2 442.2 185.0 436.9Z" fill="#ffff8c" filter="url(#b5)"/>
<path d="M246.3 419.5C256.6 410.3 292.0 409.3 307.7 407.3C323.4 405.2 337.0 398.1 340.4 407.3C343.8 416.5 343.8 453.3 328.1 462.5C312.4 471.7 260.0 469.6 246.3 462.5C232.7 455.3 236.1 428.7 246.3 419.5Z" fill="#f4f31a" filter="url(#b6)"/>
<path d="M343.2 409.3C346.6 404.9 350.7 405.9 359.5 409.3C368.4 412.7 390.2 420.9 396.3 429.8C402.5 438.6 400.4 458.0 396.3 462.5C392.2 466.9 379.3 458.0 371.8 456.3C364.3 454.6 356.8 455.7 351.3 452.2C345.9 448.8 340.4 443.0 339.1 435.9C337.7 428.7 339.8 413.7 343.2 409.3Z" fill="#fcfc44" filter="url(#b5)"/>
<path d="M238.9 433.8C247.4 427.7 276.4 422.9 290.0 419.5C303.6 416.1 309.4 415.1 320.7 413.4C331.9 411.7 348.3 407.9 357.5 409.3C366.7 410.7 373.5 415.4 375.9 421.6C378.3 427.7 377.6 442.0 371.8 446.1C366.0 450.2 351.3 446.6 341.1 446.1C330.9 445.6 327.5 441.3 310.4 443.0C293.4 444.8 250.8 457.9 238.9 456.3C227.0 454.8 230.4 440.0 238.9 433.8Z" fill="#e6e008" filter="url(#b5)" opacity="0.7"/>
<path d="M177.2 463.5C179.7 453.8 187.4 463.7 192.2 463.5C196.9 463.3 199.8 463.3 205.4 462.5C211.1 461.7 219.1 460.0 225.9 458.8C232.7 457.6 239.5 456.7 246.3 455.5C253.2 454.3 260.7 453.2 266.8 451.4C272.9 449.7 279.3 446.4 283.1 444.9C287.0 443.4 285.4 443.1 290.0 442.6C294.6 442.2 303.6 442.0 310.4 442.2C317.3 442.5 325.8 443.0 330.9 444.1C336.0 445.1 337.7 447.2 341.1 448.6C344.5 449.9 347.9 451.2 351.3 452.2C354.7 453.3 358.2 454.1 361.6 454.7C365.0 455.3 368.4 455.4 371.8 455.9C375.2 456.5 378.9 457.3 382.0 458.0C385.1 458.7 386.6 459.7 390.6 460.0C394.6 460.4 403.4 449.8 406.0 460.0C408.6 470.3 444.1 511.3 406.0 521.5C367.9 531.7 215.3 531.2 177.2 521.5C139.1 511.8 174.7 473.2 177.2 463.5Z" fill="#ffc21c" filter="url(#b3)"/>
<path d="M177.2 466.6C179.7 457.4 187.4 466.7 192.2 466.6C196.9 466.4 199.8 466.5 205.4 465.5C211.1 464.6 219.1 462.1 225.9 460.8C232.7 459.6 239.5 459.0 246.3 458.0C253.2 457.0 260.7 456.1 266.8 454.7C272.9 453.3 279.3 451.0 283.1 449.8C287.0 448.6 285.4 448.2 290.0 447.8C294.6 447.3 303.6 447.0 310.4 447.1C317.3 447.3 325.8 447.7 330.9 448.6C336.0 449.4 337.7 451.1 341.1 452.2C344.5 453.4 347.9 454.7 351.3 455.5C354.7 456.3 358.2 456.7 361.6 457.2C365.0 457.6 368.4 457.9 371.8 458.4C375.2 458.9 378.9 459.5 382.0 460.0C385.1 460.6 386.6 461.4 390.6 461.7C394.6 461.9 403.4 451.7 406.0 461.7C408.6 471.6 444.1 511.5 406.0 521.5C367.9 531.5 215.3 530.7 177.2 521.5C139.1 512.3 174.7 475.7 177.2 466.6Z" fill="#ff9c14" filter="url(#b2_5)"/>
<path d="M252.5 455.3C255.5 453.3 263.7 451.7 270.9 450.2C278.0 448.7 287.9 446.9 295.4 446.1C302.9 445.4 309.7 445.4 315.9 445.7C322.0 446.0 328.1 446.3 332.2 447.8C336.3 449.2 339.0 451.8 340.4 454.3C341.8 456.7 355.0 461.1 340.4 462.5C325.7 463.8 267.1 463.7 252.5 462.5C237.8 461.3 249.4 457.4 252.5 455.3Z" fill="#ff9c14" filter="url(#b3)" opacity="0.8"/>
<path d="M177.2 482.9C179.7 476.5 187.4 483.7 192.2 482.9C196.9 482.2 201.5 480.5 205.4 478.4C209.4 476.3 212.3 472.6 215.7 470.2C219.1 467.9 222.5 465.6 225.9 464.1C229.3 462.6 232.7 462.1 236.1 461.4C239.5 460.8 242.9 460.6 246.3 460.4C249.7 460.3 253.2 460.4 256.6 460.4C260.0 460.4 263.4 460.3 266.8 460.4C270.2 460.6 273.1 461.2 277.0 461.2C280.9 461.3 284.4 461.2 290.0 460.8C295.6 460.4 303.6 459.4 310.4 458.8C317.3 458.1 324.1 456.8 330.9 457.0C337.7 457.1 344.5 458.6 351.3 459.4C358.2 460.3 365.2 461.4 371.8 462.1C378.3 462.7 384.9 463.3 390.6 463.5C396.3 463.7 403.4 453.8 406.0 463.5C408.6 473.2 444.1 511.8 406.0 521.5C367.9 531.2 215.3 527.9 177.2 521.5C139.1 515.1 174.7 489.3 177.2 482.9Z" fill="#ff5a0a" filter="url(#b1_5)"/>
<path d="M177.2 485.4C179.7 479.4 187.4 486.1 192.2 485.4C196.9 484.7 201.5 483.3 205.4 481.3C209.4 479.3 212.3 476.0 215.7 473.5C219.1 471.1 222.5 468.2 225.9 466.6C229.3 464.9 232.7 464.2 236.1 463.5C239.5 462.8 242.9 462.5 246.3 462.3C249.7 462.0 253.2 462.1 256.6 462.1C260.0 462.0 263.4 461.9 266.8 462.1C270.2 462.2 273.1 462.7 277.0 462.9C280.9 463.0 284.4 463.2 290.0 462.9C295.6 462.5 303.6 461.5 310.4 460.8C317.3 460.2 324.1 458.7 330.9 458.8C337.7 458.9 344.5 460.4 351.3 461.2C358.2 462.1 365.2 463.3 371.8 463.9C378.3 464.5 384.9 464.8 390.6 464.9C396.3 465.1 403.4 455.5 406.0 464.9C408.6 474.4 444.1 512.1 406.0 521.5C367.9 530.9 215.3 527.5 177.2 521.5C139.1 515.5 174.7 491.4 177.2 485.4Z" fill="#ff1200" filter="url(#b1_5)"/>
<path d="M177.2 488.1C179.7 482.5 187.4 488.4 192.2 488.1C196.9 487.7 201.5 486.9 205.4 486.0C209.4 485.2 212.3 484.2 215.7 483.0C219.1 481.8 222.5 480.4 225.9 478.9C229.3 477.3 232.7 475.2 236.1 473.8C239.5 472.3 242.9 471.3 246.3 470.3C249.7 469.3 253.2 468.6 256.6 467.6C260.0 466.7 263.7 465.2 266.8 464.6C269.9 463.9 271.6 463.4 275.0 463.5C278.4 463.7 284.7 465.1 287.2 465.6C289.7 466.1 286.1 466.6 290.0 466.6C293.9 466.6 303.6 466.1 310.4 465.6C317.3 465.1 324.1 463.8 330.9 463.5C337.7 463.3 346.2 463.6 351.3 464.2C356.4 464.7 358.2 466.0 361.6 466.6C365.0 467.2 368.4 467.5 371.8 467.6C375.2 467.8 378.9 467.7 382.0 467.6C385.1 467.5 386.6 467.1 390.6 467.0C394.6 466.9 403.4 457.9 406.0 467.0C408.6 476.1 444.1 512.4 406.0 521.5C367.9 530.6 215.3 527.1 177.2 521.5C139.1 515.9 174.7 493.6 177.2 488.1Z" fill="#5a009a" filter="url(#b1_5)" opacity="0.8"/>
<path d="M177.2 490.1C179.7 484.8 187.4 490.4 192.2 490.1C196.9 489.7 201.5 488.9 205.4 488.0C209.4 487.2 212.3 486.2 215.7 485.0C219.1 483.8 222.5 482.4 225.9 480.9C229.3 479.3 232.7 477.2 236.1 475.8C239.5 474.3 242.9 473.3 246.3 472.3C249.7 471.3 253.2 470.6 256.6 469.6C260.0 468.7 263.7 467.2 266.8 466.6C269.9 465.9 271.6 465.4 275.0 465.5C278.4 465.7 284.7 467.1 287.2 467.6C289.7 468.1 286.1 468.6 290.0 468.6C293.9 468.6 303.6 468.1 310.4 467.6C317.3 467.1 324.1 465.8 330.9 465.5C337.7 465.3 346.2 465.6 351.3 466.2C356.4 466.7 358.2 468.0 361.6 468.6C365.0 469.2 368.4 469.5 371.8 469.6C375.2 469.8 378.9 469.7 382.0 469.6C385.1 469.5 386.6 469.1 390.6 469.0C394.6 468.9 403.4 460.3 406.0 469.0C408.6 477.8 444.1 512.8 406.0 521.5C367.9 530.2 215.3 526.7 177.2 521.5C139.1 516.3 174.7 495.3 177.2 490.1Z" fill="#0505da" filter="url(#b1_3)"/>
<rect x="192.2" y="373.8" width="198.8" height="132.7" fill="#000" opacity="0.10" filter="url(#grain)"/>
</g></g>
<polygon points="196.9,379.6 357.5,379.6 357.5,376.1 369.1,386.3 357.5,396.5 357.5,393.0 196.9,393.0" fill="#bfbff9"/>
<rect x="192.2" y="373.8" width="198.8" height="132.7" fill="none" stroke="#555" stroke-width="1.1"/>
<line x1="192.2" y1="506.5" x2="192.2" y2="509.7" stroke="#888" stroke-width="1.2"/>
<text x="192.4" y="523.5" class="t" text-anchor="middle">0</text>
<line x1="232.0" y1="506.5" x2="232.0" y2="509.7" stroke="#888" stroke-width="1.2"/>
<text x="232.2" y="523.5" class="t" text-anchor="middle">3</text>
<line x1="271.7" y1="506.5" x2="271.7" y2="509.7" stroke="#888" stroke-width="1.2"/>
<text x="271.9" y="523.5" class="t" text-anchor="middle">6</text>
<line x1="311.5" y1="506.5" x2="311.5" y2="509.7" stroke="#888" stroke-width="1.2"/>
<text x="311.7" y="523.5" class="t" text-anchor="middle">9</text>
<line x1="351.2" y1="506.5" x2="351.2" y2="509.7" stroke="#888" stroke-width="1.2"/>
<text x="351.4" y="523.5" class="t" text-anchor="middle">12</text>
<line x1="391.0" y1="506.5" x2="391.0" y2="509.7" stroke="#888" stroke-width="1.2"/>
<text x="391.2" y="523.5" class="t" text-anchor="middle">15</text>
<line x1="189.0" y1="506.5" x2="192.2" y2="506.5" stroke="#888" stroke-width="1.2"/>
<text x="186.2" y="511.7" class="t" text-anchor="end">0</text>
<line x1="189.0" y1="480.0" x2="192.2" y2="480.0" stroke="#888" stroke-width="1.2"/>
<text x="186.2" y="485.2" class="t" text-anchor="end">2</text>
<line x1="189.0" y1="453.4" x2="192.2" y2="453.4" stroke="#888" stroke-width="1.2"/>
<text x="186.2" y="458.6" class="t" text-anchor="end">4</text>
<line x1="189.0" y1="426.9" x2="192.2" y2="426.9" stroke="#888" stroke-width="1.2"/>
<text x="186.2" y="432.1" class="t" text-anchor="end">6</text>
<line x1="189.0" y1="400.3" x2="192.2" y2="400.3" stroke="#888" stroke-width="1.2"/>
<text x="186.2" y="405.5" class="t" text-anchor="end">8</text>
<line x1="189.0" y1="373.8" x2="192.2" y2="373.8" stroke="#888" stroke-width="1.2"/>
<text x="186.2" y="379.0" class="t" text-anchor="end">10</text>
<text x="291.6" y="540.2" class="l" text-anchor="middle">x [cm]</text>
<text transform="translate(164.4 440.1) rotate(-90)" class="l" text-anchor="middle">y [cm]</text>
<text x="197.5" y="390.2" class="a">U = 0.37 m s<tspan class="sup" dy="-4.5" dx="0.6">−1</tspan><tspan dy="4.5" dx="1">, U</tspan><tspan class="sub" dy="2">b</tspan><tspan dy="-2"> = 0.67 m h</tspan><tspan class="sup" dy="-4.5" dx="0.6">−1</tspan></text>
<text x="382.0" y="389.2" class="p" text-anchor="middle">E</text>
</g>
<g id="legend">
<text transform="translate(480.4 379.9) scale(1.15 1)" class="lg" text-anchor="middle">Air saturation [%]</text>
<rect x="468.7" y="389.50" width="28.2" height="19.16" fill="#ffffff"/>
<rect x="468.7" y="408.46" width="28.2" height="19.16" fill="#ffff80"/>
<rect x="468.7" y="427.43" width="28.2" height="19.16" fill="#cccc00"/>
<rect x="468.7" y="446.39" width="28.2" height="19.16" fill="#ffa040"/>
<rect x="468.7" y="465.35" width="28.2" height="19.16" fill="#ff0000"/>
<rect x="468.7" y="484.31" width="28.2" height="19.16" fill="#5a0082"/>
<rect x="468.7" y="503.28" width="28.2" height="19.16" fill="#0000cc"/>
<rect x="468.7" y="522.24" width="28.2" height="19.16" fill="#000000"/>
<rect x="467.7" y="389.5" width="30.2" height="151.7" fill="none" stroke="#aaa" stroke-width="0.8"/>
<line x1="458.2" y1="389.5" x2="467.7" y2="389.5" stroke="#aaa" stroke-width="0.8"/>
<text transform="translate(445.8 391.9) scale(1.17 1)" class="lg" text-anchor="middle">123</text>
<line x1="458.2" y1="408.5" x2="467.7" y2="408.5" stroke="#aaa" stroke-width="0.8"/>
<text transform="translate(445.8 410.9) scale(1.17 1)" class="lg" text-anchor="middle">105</text>
<line x1="458.2" y1="427.4" x2="467.7" y2="427.4" stroke="#aaa" stroke-width="0.8"/>
<text transform="translate(446.8 429.8) scale(1.17 1)" class="lg" text-anchor="middle">87</text>
<line x1="458.2" y1="446.4" x2="467.7" y2="446.4" stroke="#aaa" stroke-width="0.8"/>
<text transform="translate(446.8 448.8) scale(1.17 1)" class="lg" text-anchor="middle">69</text>
<line x1="458.2" y1="465.4" x2="467.7" y2="465.4" stroke="#aaa" stroke-width="0.8"/>
<text transform="translate(446.8 467.8) scale(1.17 1)" class="lg" text-anchor="middle">51</text>
<line x1="458.2" y1="484.3" x2="467.7" y2="484.3" stroke="#aaa" stroke-width="0.8"/>
<text transform="translate(446.8 486.7) scale(1.17 1)" class="lg" text-anchor="middle">33</text>
<line x1="458.2" y1="503.3" x2="467.7" y2="503.3" stroke="#aaa" stroke-width="0.8"/>
<text transform="translate(446.8 505.7) scale(1.17 1)" class="lg" text-anchor="middle">15</text>
<line x1="458.2" y1="522.2" x2="467.7" y2="522.2" stroke="#aaa" stroke-width="0.8"/>
<text transform="translate(446.8 524.6) scale(1.17 1)" class="lg" text-anchor="middle">-3</text>
<line x1="458.2" y1="541.2" x2="467.7" y2="541.2" stroke="#aaa" stroke-width="0.8"/>
<text transform="translate(445.8 543.6) scale(1.17 1)" class="lg" text-anchor="middle">-20</text>
</g>
</svg>
</body></html>
